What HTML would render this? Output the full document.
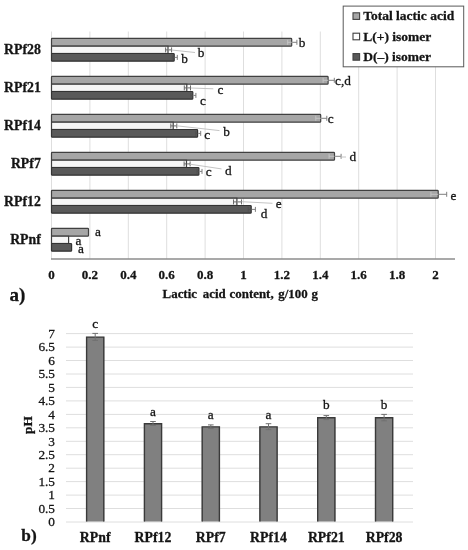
<!DOCTYPE html>
<html><head><meta charset="utf-8"><title>Lactic acid content and pH</title>
<style>
html,body{margin:0;padding:0;background:#fff;}
body{width:468px;height:550px;overflow:hidden;position:relative;font-family:"Liberation Serif","Times New Roman",serif;}
svg{position:absolute;left:0;top:0;display:block;filter:blur(0.35px)}
text{font-family:"Liberation Serif","Times New Roman",serif;fill:#141414;stroke:#141414;stroke-width:0.28px}
.b{font-weight:bold}
.t{font-size:13.3px}
</style></head><body>
<svg width="468" height="550" viewBox="0 0 468 550">
<rect x="0" y="0" width="468" height="550" fill="#fff"/>

<g stroke="#dedede" stroke-width="1">
<line x1="51.5" y1="31.5" x2="51.5" y2="259.0"/>
<line x1="89.9" y1="31.5" x2="89.9" y2="259.0"/>
<line x1="128.3" y1="31.5" x2="128.3" y2="259.0"/>
<line x1="166.7" y1="31.5" x2="166.7" y2="259.0"/>
<line x1="205.1" y1="31.5" x2="205.1" y2="259.0"/>
<line x1="243.5" y1="31.5" x2="243.5" y2="259.0"/>
<line x1="281.9" y1="31.5" x2="281.9" y2="259.0"/>
<line x1="320.3" y1="31.5" x2="320.3" y2="259.0"/>
<line x1="358.7" y1="31.5" x2="358.7" y2="259.0"/>
<line x1="397.1" y1="31.5" x2="397.1" y2="259.0"/>
<line x1="435.5" y1="31.5" x2="435.5" y2="259.0"/>
</g>
<rect x="51.5" y="38.4" width="240.2" height="7.8" rx="0.8" fill="#a6a6a6" stroke="#404040" stroke-width="1.2"/>
<rect x="51.5" y="46.2" width="116.5" height="7.3" fill="#f6f6f6" stroke="#404040" stroke-width="1.2"/>
<rect x="51.5" y="53.5" width="122.7" height="7.7" rx="0.8" fill="#595959" stroke="#333" stroke-width="1.2"/>
<path d="M287.7 42.3H291.7M287.7 39.8v5" stroke="#c4c4c4" stroke-width="1" fill="none"/>
<path d="M292.3 42.3H296.9M296.9 39.8v5" stroke="#7f7f7f" stroke-width="1" fill="none"/>
<path d="M165.6 49.9H168.0M165.6 47.4v5" stroke="#6a6a6a" stroke-width="1" fill="none"/>
<path d="M168.6 49.9H171.6M171.6 47.4v5" stroke="#6a6a6a" stroke-width="1" fill="none"/>
<path d="M172.3 57.4H174.2M172.3 54.9v5" stroke="#505050" stroke-width="1" fill="none"/>
<path d="M174.8 57.4H177.3M177.3 54.9v5" stroke="#7f7f7f" stroke-width="1" fill="none"/>
<rect x="51.5" y="76.4" width="276.6" height="7.8" rx="0.8" fill="#a6a6a6" stroke="#404040" stroke-width="1.2"/>
<rect x="51.5" y="84.2" width="135.3" height="7.3" fill="#f6f6f6" stroke="#404040" stroke-width="1.2"/>
<rect x="51.5" y="91.5" width="141.3" height="7.7" rx="0.8" fill="#595959" stroke="#333" stroke-width="1.2"/>
<path d="M323.1 80.3H328.1M323.1 77.8v5" stroke="#c4c4c4" stroke-width="1" fill="none"/>
<path d="M328.7 80.3H334.3M334.3 77.8v5" stroke="#7f7f7f" stroke-width="1" fill="none"/>
<path d="M184.3 87.9H186.8M184.3 85.4v5" stroke="#6a6a6a" stroke-width="1" fill="none"/>
<path d="M187.4 87.9H190.5M190.5 85.4v5" stroke="#6a6a6a" stroke-width="1" fill="none"/>
<path d="M190.9 95.4H192.8M190.9 92.9v5" stroke="#505050" stroke-width="1" fill="none"/>
<path d="M193.4 95.4H195.9M195.9 92.9v5" stroke="#7f7f7f" stroke-width="1" fill="none"/>
<rect x="51.5" y="114.4" width="269.2" height="7.8" rx="0.8" fill="#a6a6a6" stroke="#404040" stroke-width="1.2"/>
<rect x="51.5" y="122.2" width="121.7" height="7.3" fill="#f6f6f6" stroke="#404040" stroke-width="1.2"/>
<rect x="51.5" y="129.5" width="146.1" height="7.7" rx="0.8" fill="#595959" stroke="#333" stroke-width="1.2"/>
<path d="M315.8 118.3H320.7M315.8 115.8v5" stroke="#c4c4c4" stroke-width="1" fill="none"/>
<path d="M321.3 118.3H326.8M326.8 115.8v5" stroke="#7f7f7f" stroke-width="1" fill="none"/>
<path d="M170.8 125.9H173.2M170.8 123.4v5" stroke="#6a6a6a" stroke-width="1" fill="none"/>
<path d="M173.8 125.9H176.8M176.8 123.4v5" stroke="#6a6a6a" stroke-width="1" fill="none"/>
<path d="M195.7 133.4H197.6M195.7 130.9v5" stroke="#505050" stroke-width="1" fill="none"/>
<path d="M198.2 133.4H200.7M200.7 130.9v5" stroke="#7f7f7f" stroke-width="1" fill="none"/>
<rect x="51.5" y="152.4" width="283.0" height="7.8" rx="0.8" fill="#a6a6a6" stroke="#404040" stroke-width="1.2"/>
<rect x="51.5" y="160.2" width="135.0" height="7.3" fill="#f6f6f6" stroke="#404040" stroke-width="1.2"/>
<rect x="51.5" y="167.5" width="147.4" height="7.7" rx="0.8" fill="#595959" stroke="#333" stroke-width="1.2"/>
<path d="M329.1 156.3H334.5M329.1 153.8v5" stroke="#c4c4c4" stroke-width="1" fill="none"/>
<path d="M335.1 156.3H341.1M341.1 153.8v5" stroke="#7f7f7f" stroke-width="1" fill="none"/>
<path d="M184.1 163.9H186.5M184.1 161.4v5" stroke="#6a6a6a" stroke-width="1" fill="none"/>
<path d="M187.1 163.9H190.1M190.1 161.4v5" stroke="#6a6a6a" stroke-width="1" fill="none"/>
<path d="M197.0 171.4H198.9M197.0 168.9v5" stroke="#505050" stroke-width="1" fill="none"/>
<path d="M199.5 171.4H202.0M202.0 168.9v5" stroke="#7f7f7f" stroke-width="1" fill="none"/>
<rect x="51.5" y="190.4" width="386.7" height="7.8" rx="0.8" fill="#a6a6a6" stroke="#404040" stroke-width="1.2"/>
<rect x="51.5" y="198.2" width="185.4" height="7.3" fill="#f6f6f6" stroke="#404040" stroke-width="1.2"/>
<rect x="51.5" y="205.5" width="199.7" height="7.7" rx="0.8" fill="#595959" stroke="#333" stroke-width="1.2"/>
<path d="M430.9 194.3H438.2M430.9 191.8v5" stroke="#c4c4c4" stroke-width="1" fill="none"/>
<path d="M438.8 194.3H446.7M446.7 191.8v5" stroke="#7f7f7f" stroke-width="1" fill="none"/>
<path d="M233.5 201.9H236.9M233.5 199.4v5" stroke="#6a6a6a" stroke-width="1" fill="none"/>
<path d="M237.5 201.9H241.5M241.5 199.4v5" stroke="#6a6a6a" stroke-width="1" fill="none"/>
<path d="M248.2 209.4H251.2M248.2 206.9v5" stroke="#505050" stroke-width="1" fill="none"/>
<path d="M251.8 209.4H255.4M255.4 206.9v5" stroke="#7f7f7f" stroke-width="1" fill="none"/>
<rect x="51.5" y="228.4" width="37.0" height="7.8" rx="0.8" fill="#a6a6a6" stroke="#404040" stroke-width="1.2"/>
<rect x="51.5" y="236.2" width="17.1" height="7.3" fill="#f6f6f6" stroke="#404040" stroke-width="1.2"/>
<rect x="51.5" y="243.5" width="20.1" height="7.7" rx="0.8" fill="#595959" stroke="#333" stroke-width="1.2"/>
<line x1="51.0" y1="259.0" x2="455" y2="259.0" stroke="#8c8c8c" stroke-width="1.6"/>
<text class="b" font-size="13.8px" x="40.8" y="53.6" text-anchor="end">RPf28</text>
<text class="b" font-size="13.8px" x="40.8" y="91.6" text-anchor="end">RPf21</text>
<text class="b" font-size="13.8px" x="40.8" y="129.6" text-anchor="end">RPf14</text>
<text class="b" font-size="13.8px" x="40.8" y="167.6" text-anchor="end">RPf7</text>
<text class="b" font-size="13.8px" x="40.8" y="205.6" text-anchor="end">RPf12</text>
<text class="b" font-size="13.8px" x="40.8" y="243.6" text-anchor="end">RPnf</text>
<text class="b" font-size="13px" x="51.5" y="278.7" text-anchor="middle">0</text>
<text class="b" font-size="13px" x="89.9" y="278.7" text-anchor="middle">0.2</text>
<text class="b" font-size="13px" x="128.3" y="278.7" text-anchor="middle">0.4</text>
<text class="b" font-size="13px" x="166.7" y="278.7" text-anchor="middle">0.6</text>
<text class="b" font-size="13px" x="205.1" y="278.7" text-anchor="middle">0.8</text>
<text class="b" font-size="13px" x="243.5" y="278.7" text-anchor="middle">1</text>
<text class="b" font-size="13px" x="281.9" y="278.7" text-anchor="middle">1.2</text>
<text class="b" font-size="13px" x="320.3" y="278.7" text-anchor="middle">1.4</text>
<text class="b" font-size="13px" x="358.7" y="278.7" text-anchor="middle">1.6</text>
<text class="b" font-size="13px" x="397.1" y="278.7" text-anchor="middle">1.8</text>
<text class="b" font-size="13px" x="435.5" y="278.7" text-anchor="middle">2</text>
<text class="b" font-size="12.9px" y="298.3"><tspan x="162.6">Lactic </tspan><tspan x="202.8">acid </tspan><tspan x="229.6">content, </tspan><tspan x="278.3">g/100 </tspan><tspan x="311.6">g</tspan></text>
<text class="b" font-size="19px" x="9.6" y="301.2">a)</text>
<g stroke="#c4c4c4" stroke-width="1" fill="none">
<line x1="171.7" y1="50.0" x2="195.0" y2="52.5"/>
<line x1="190.8" y1="88.0" x2="213.3" y2="88.8"/>
<line x1="176.7" y1="125.8" x2="219.5" y2="130.6"/>
<line x1="190.0" y1="164.2" x2="221.5" y2="168.9"/>
<line x1="241.7" y1="201.7" x2="272.5" y2="203.3"/>
<line x1="340.5" y1="157.0" x2="346.0" y2="157.0"/>
</g>
<text class="t" x="298.7" y="46.7">b</text>
<text class="t" x="197.8" y="56.7">b</text>
<text class="t" x="181.3" y="62.5">b</text>
<text class="t" x="335.0" y="84.7">c,d</text>
<text class="t" x="217.5" y="94.2">c</text>
<text class="t" x="200.0" y="104.5">c</text>
<text class="t" x="327.8" y="122.8">c</text>
<text class="t" x="223.3" y="135.8">b</text>
<text class="t" x="204.2" y="139.2">c</text>
<text class="t" x="349.5" y="161.2">d</text>
<text class="t" x="225.0" y="174.7">d</text>
<text class="t" x="205.8" y="176.2">c</text>
<text class="t" x="450.5" y="199.7">e</text>
<text class="t" x="275.8" y="207.5">e</text>
<text class="t" x="260.8" y="217.5">d</text>
<text class="t" x="95.0" y="236.3">a</text>
<text class="t" x="75.5" y="245.0">a</text>
<text class="t" x="78.0" y="252.5">a</text>
<rect x="343.2" y="6.1" width="120.5" height="60.7" fill="#fff" stroke="#595959" stroke-width="1"/>
<rect x="353" y="12.8" width="6.6" height="6.6" fill="#a6a6a6" stroke="#404040" stroke-width="1.1"/>
<text class="b" font-size="13.5px" x="363.2" y="20.2">Total lactic acid</text>
<rect x="353" y="33.2" width="6.6" height="6.6" fill="#ffffff" stroke="#404040" stroke-width="1.1"/>
<text class="b" font-size="13.5px" x="363.2" y="40.6">L(+) isomer</text>
<rect x="353" y="53.6" width="6.6" height="6.6" fill="#595959" stroke="#404040" stroke-width="1.1"/>
<text class="b" font-size="13.5px" x="363.2" y="61.0">D(–) isomer</text>
<g stroke="#dedede" stroke-width="1">
<line x1="66.0" y1="522.0" x2="413" y2="522.0"/>
<line x1="66.0" y1="508.5" x2="413" y2="508.5"/>
<line x1="66.0" y1="495.1" x2="413" y2="495.1"/>
<line x1="66.0" y1="481.6" x2="413" y2="481.6"/>
<line x1="66.0" y1="468.2" x2="413" y2="468.2"/>
<line x1="66.0" y1="454.7" x2="413" y2="454.7"/>
<line x1="66.0" y1="441.3" x2="413" y2="441.3"/>
<line x1="66.0" y1="427.8" x2="413" y2="427.8"/>
<line x1="66.0" y1="414.4" x2="413" y2="414.4"/>
<line x1="66.0" y1="400.9" x2="413" y2="400.9"/>
<line x1="66.0" y1="387.4" x2="413" y2="387.4"/>
<line x1="66.0" y1="374.0" x2="413" y2="374.0"/>
<line x1="66.0" y1="360.5" x2="413" y2="360.5"/>
<line x1="66.0" y1="347.1" x2="413" y2="347.1"/>
<line x1="66.0" y1="333.6" x2="413" y2="333.6"/>
</g>
<text class="t" x="55" y="526.2" text-anchor="end">0</text>
<text class="t" x="55" y="512.7" text-anchor="end">0.5</text>
<text class="t" x="55" y="499.3" text-anchor="end">1</text>
<text class="t" x="55" y="485.8" text-anchor="end">1.5</text>
<text class="t" x="55" y="472.4" text-anchor="end">2</text>
<text class="t" x="55" y="458.9" text-anchor="end">2.5</text>
<text class="t" x="55" y="445.5" text-anchor="end">3</text>
<text class="t" x="55" y="432.0" text-anchor="end">3.5</text>
<text class="t" x="55" y="418.6" text-anchor="end">4</text>
<text class="t" x="55" y="405.1" text-anchor="end">4.5</text>
<text class="t" x="55" y="391.6" text-anchor="end">5</text>
<text class="t" x="55" y="378.2" text-anchor="end">5.5</text>
<text class="t" x="55" y="364.7" text-anchor="end">6</text>
<text class="t" x="55" y="351.3" text-anchor="end">6.5</text>
<text class="t" x="55" y="337.8" text-anchor="end">7</text>
<rect x="86.2" y="336.9" width="18" height="184.6" fill="#808080"/>
<path d="M86.6 521.5V337.1H103.8V521.5" fill="none" stroke="#3a3a3a" stroke-width="1.4"/>
<path d="M95.2 333.4V340.4M92.4 333.4h5.6M92.4 340.4h5.6" stroke="#707070" stroke-width="1" fill="none"/>
<text class="b" font-size="13.8px" x="95.2" y="542" text-anchor="middle">RPnf</text>
<text class="t" x="95.2" y="328.4" text-anchor="middle">c</text>
<rect x="144.0" y="423.5" width="18" height="98.0" fill="#808080"/>
<path d="M144.4 521.5V423.7H161.6V521.5" fill="none" stroke="#3a3a3a" stroke-width="1.4"/>
<path d="M153.0 421.5V425.5M150.2 421.5h5.6M150.2 425.5h5.6" stroke="#707070" stroke-width="1" fill="none"/>
<text class="b" font-size="13.8px" x="153.0" y="542" text-anchor="middle">RPf12</text>
<text class="t" x="153.0" y="415.7" text-anchor="middle">a</text>
<rect x="201.8" y="426.7" width="18" height="94.8" fill="#808080"/>
<path d="M202.2 521.5V426.9H219.4V521.5" fill="none" stroke="#3a3a3a" stroke-width="1.4"/>
<path d="M210.8 424.9V428.5M208.0 424.9h5.6M208.0 428.5h5.6" stroke="#707070" stroke-width="1" fill="none"/>
<text class="b" font-size="13.8px" x="210.8" y="542" text-anchor="middle">RPf7</text>
<text class="t" x="210.8" y="418.7" text-anchor="middle">a</text>
<rect x="259.5" y="426.7" width="18" height="94.8" fill="#808080"/>
<path d="M259.9 521.5V426.9H277.1V521.5" fill="none" stroke="#3a3a3a" stroke-width="1.4"/>
<path d="M268.5 423.7V429.7M265.7 423.7h5.6M265.7 429.7h5.6" stroke="#707070" stroke-width="1" fill="none"/>
<text class="b" font-size="13.8px" x="268.5" y="542" text-anchor="middle">RPf14</text>
<text class="t" x="268.5" y="418.7" text-anchor="middle">a</text>
<rect x="317.3" y="417.6" width="18" height="103.9" fill="#808080"/>
<path d="M317.7 521.5V417.8H334.9V521.5" fill="none" stroke="#3a3a3a" stroke-width="1.4"/>
<path d="M326.3 415.6V419.6M323.5 415.6h5.6M323.5 419.6h5.6" stroke="#707070" stroke-width="1" fill="none"/>
<text class="b" font-size="13.8px" x="326.3" y="542" text-anchor="middle">RPf21</text>
<text class="t" x="326.3" y="408.8" text-anchor="middle">b</text>
<rect x="375.1" y="417.6" width="18" height="103.9" fill="#808080"/>
<path d="M375.5 521.5V417.8H392.7V521.5" fill="none" stroke="#3a3a3a" stroke-width="1.4"/>
<path d="M384.1 414.4V420.8M381.3 414.4h5.6M381.3 420.8h5.6" stroke="#707070" stroke-width="1" fill="none"/>
<text class="b" font-size="13.8px" x="384.1" y="542" text-anchor="middle">RPf28</text>
<text class="t" x="384.1" y="408.9" text-anchor="middle">b</text>
<text class="b t" transform="translate(31.6 425) rotate(-90)" text-anchor="middle">pH</text>
<text class="b" font-size="17.3px" x="21.3" y="540.8">b)</text>
</svg></body></html>
